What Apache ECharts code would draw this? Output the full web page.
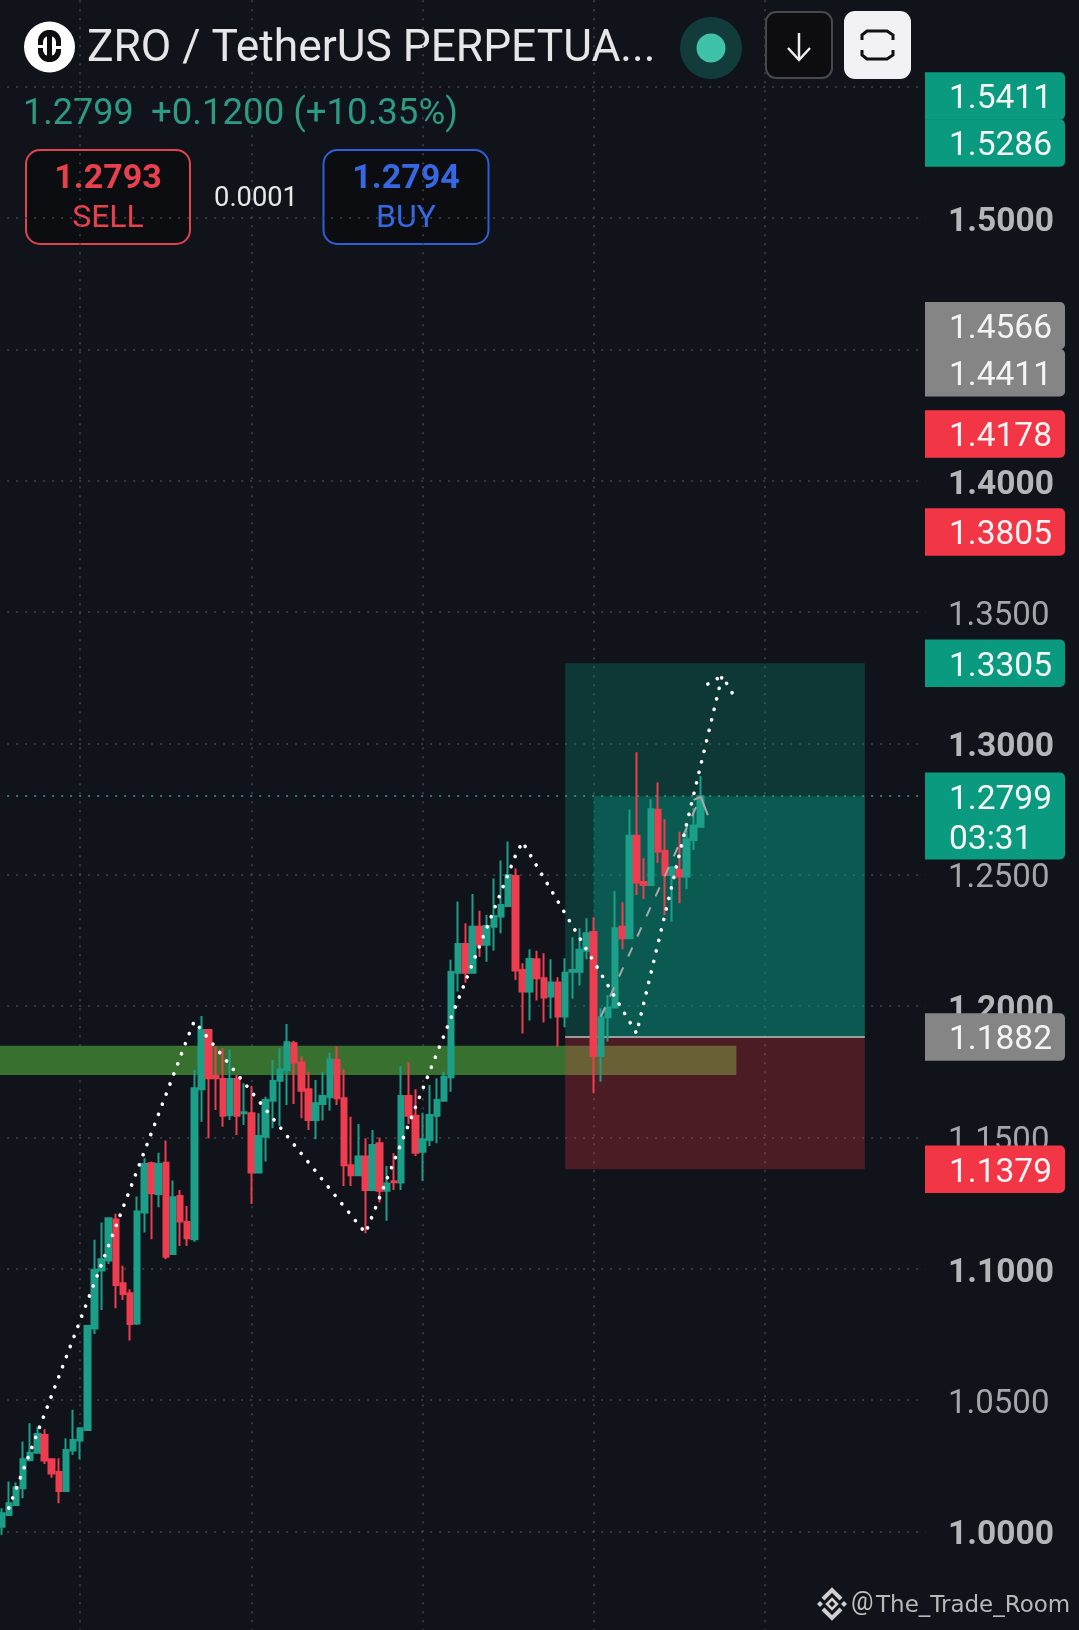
<!DOCTYPE html>
<html><head><meta charset="utf-8">
<style>html,body{margin:0;padding:0;background:#10131a}#c{width:1079px;height:1630px}</style>
<script src="https://cdn.jsdelivr.net/npm/echarts@6/dist/echarts.min.js"></script>
</head><body><div id="c"></div>
<script>
const opens=[1.0018,1.0063,1.0101,1.0164,1.0272,1.0300,1.0367,1.0275,1.0226,1.0154,1.0308,1.0346,1.0386,1.0773,1.0993,1.1031,1.1188,1.0945,1.0907,1.0792,1.1214,1.1402,1.1285,1.1404,1.1056,1.1277,1.1178,1.1112,1.1683,1.1909,1.1734,1.1722,1.1585,1.1722,1.1592,1.1592,1.1366,1.1503,1.1640,1.1716,1.1757,1.1858,1.1785,1.1683,1.1566,1.1627,1.1653,1.1795,1.1649,1.1394,1.1356,1.1427,1.1300,1.1478,1.1297,1.1333,1.1328,1.1658,1.1582,1.1445,1.1490,1.1582,1.1640,1.1729,1.2127,1.2236,1.2127,1.2302,1.2233,1.2302,1.2341,1.2381,1.2495,1.2137,1.2055,1.2178,1.2106,1.2036,1.2090,1.1960,1.2131,1.2131,1.2211,1.2282,1.1810,1.1957,1.1995,1.2302,1.2258,1.2648,1.2472,1.2461,1.2747,1.2590,1.2499,1.2518,1.2493,1.2632,1.2683];
const closes=[1.0069,1.0107,1.0168,1.0275,1.0300,1.0371,1.0270,1.0221,1.0154,1.0310,1.0348,1.0393,1.0782,1.0996,1.1036,1.1192,1.0938,1.0904,1.0790,1.1218,1.1399,1.1287,1.1399,1.1046,1.1272,1.1180,1.1116,1.1687,1.1909,1.1725,1.1725,1.1582,1.1722,1.1582,1.1596,1.1366,1.1505,1.1642,1.1715,1.1759,1.1862,1.1785,1.1678,1.1566,1.1630,1.1658,1.1797,1.1649,1.1394,1.1356,1.1427,1.1300,1.1471,1.1297,1.1325,1.1329,1.1658,1.1582,1.1442,1.1493,1.1585,1.1642,1.1731,1.2130,1.2236,1.2127,1.2302,1.2233,1.2305,1.2343,1.2385,1.2499,1.2135,1.2055,1.2179,1.2106,1.2033,1.2090,1.1960,1.2127,1.2137,1.2214,1.2277,1.1810,1.1957,1.1995,1.2296,1.2258,1.2648,1.2470,1.2461,1.2749,1.2588,1.2499,1.2528,1.2493,1.2635,1.2687,1.2799];
const lows=[0.9987,1.0063,1.0101,1.0126,1.0266,1.0300,1.0257,1.0204,1.0107,1.0154,1.0291,1.0275,1.0386,1.0752,1.0843,1.1018,1.0850,1.0881,1.0727,1.0786,1.1138,1.1112,1.1234,1.1036,1.1056,1.1087,1.1087,1.1103,1.1560,1.1497,1.1604,1.1541,1.1566,1.1509,1.1547,1.1247,1.1366,1.1408,1.1535,1.1544,1.1623,1.1627,1.1573,1.1528,1.1493,1.1564,1.1602,1.1623,1.1315,1.1315,1.1356,1.1135,1.1300,1.1252,1.1183,1.1300,1.1300,1.1551,1.1429,1.1335,1.1467,1.1478,1.1640,1.1674,1.2055,1.2089,1.2127,1.2188,1.2169,1.2211,1.2277,1.2381,1.2099,1.1896,1.1945,1.2021,1.1937,1.1953,1.1846,1.1919,1.2028,1.2078,1.2178,1.1668,1.1712,1.1865,1.1992,1.2216,1.2258,1.2423,1.2408,1.2461,1.2546,1.2347,1.2321,1.2391,1.2445,1.2594,1.2683];
const highs=[1.0088,1.0190,1.0186,1.0342,1.0412,1.0399,1.0389,1.0279,1.0279,1.0355,1.0463,1.0393,1.0786,1.1110,1.1176,1.1196,1.1209,1.1011,1.0922,1.1275,1.1421,1.1408,1.1442,1.1488,1.1336,1.1300,1.1239,1.1757,1.1962,1.1909,1.1846,1.1839,1.1835,1.1738,1.1706,1.1696,1.1592,1.1655,1.1795,1.1839,1.1932,1.1868,1.1808,1.1750,1.1719,1.1750,1.1823,1.1846,1.1759,1.1579,1.1551,1.1497,1.1528,1.1500,1.1391,1.1440,1.1772,1.1785,1.1683,1.1594,1.1700,1.1725,1.1750,1.2176,1.2398,1.2315,1.2427,1.2363,1.2347,1.2486,1.2554,1.2626,1.2524,1.2163,1.2216,1.2211,1.2201,1.2178,1.2110,1.2182,1.2262,1.2296,1.2334,1.2338,1.1992,1.2042,1.2438,1.2395,1.2747,1.2966,1.2563,1.2787,1.2851,1.2711,1.2531,1.2664,1.2670,1.2753,1.2876];
const slotCount=130;
const gridLineSlots=[11,35,59,83,107];
const categories=Array.from({length:slotCount},(_,i)=>String(i));

const tagValues=[1.5411,1.5286,1.4566,1.4411,1.4178,1.3805,1.3305,1.2799,1.1882,1.1379];
const tagKinds=['up','up','flat','flat','down','down','up','up','flat','down'];
const countdown='03:31';

const stopPrice=1.1379,entryPrice=1.1882,targetPrice=1.3305,lastPrice=1.2799;
const zoneLow=1.1738,zoneHigh=1.1849,zoneEndSlot=103;
const boxStartSlot=79,boxLiveSlot=83,boxEndSlot=121;

const dotsMain=[[1,1.0089],[26,1.1875],[27,1.1943],[51,1.1136],[72,1.2571],[73,1.2625],[89,1.1896],[101,1.3257],[103,1.3165]];
const dotsTop=[[99,1.3226],[101,1.3257]];
const guideDash=[[84,1.1960],[98,1.2796]];
const guideHead=[[97,1.2785],[98,1.2796],[99,1.2727]];

const GREEN='#1c9f89',RED='#ef3d50',BG='#10131a';
const tagColors={up:'#0a9a80',flat:'#858585',down:'#f23645'};
const F='Roboto, sans-serif';
const chart=echarts.init(document.getElementById('c'),null,{renderer:'canvas'});

function rectItem(api,i0,i1,p0,p1,style){
  const a=api.coord([i0,p0]),b=api.coord([i1,p1]);
  const x=i0===0?0:a[0];
  return {type:'rect',shape:{x:x,y:Math.min(a[1],b[1]),width:b[0]-x,height:Math.abs(a[1]-b[1])},style:style};
}
const zoneRects=[[0,zoneEndSlot,zoneLow,zoneHigh]];
const boxRects=[
 [boxStartSlot,boxEndSlot,entryPrice,targetPrice,'rgba(8,153,129,0.28)'],
 [boxLiveSlot,boxEndSlot,entryPrice,lastPrice,'rgba(8,153,129,0.36)'],
 [boxStartSlot,boxEndSlot,stopPrice,entryPrice,'rgba(242,54,69,0.27)']
];
const lineCommon={type:'line',symbol:'none',silent:true,clip:false,animation:false};

const option={
 animation:false,
 backgroundColor:BG,
 grid:{left:-1.87,top:-44.7,width:927.3,height:1707.5,containLabel:false,outerBoundsMode:'none'},
 xAxis:{type:'category',data:categories,boundaryGap:true,
  axisLine:{show:false},axisTick:{show:false},axisLabel:{show:false},
  splitLine:{show:true,alignWithLabel:true,interval:(i)=>gridLineSlots.indexOf(i)>=0,
   lineStyle:{color:'#41454c',width:1.5,type:[2,7]}}},
 yAxis:{type:'value',position:'right',min:0.95,max:1.6,interval:0.05,scale:true,
  axisLine:{show:false},axisTick:{show:false},
  axisLabel:{show:true,margin:22.6,align:'left',
   formatter:(v)=>{const s=v.toFixed(4);return (Math.round(v*100)%10===0)?'{b|'+s+'}':'{r|'+s+'}';},
   rich:{b:{fontFamily:F,fontSize:33.5,fontWeight:'bold',color:'#b4b6ba',padding:[9,0,0,0]},
         r:{fontFamily:F,fontSize:33,fontWeight:'normal',color:'#a4a6aa',padding:[9,0,0,0]}}},
  splitLine:{show:true,lineStyle:{color:'#41454c',width:1.5,type:[2,7]}}},
 series:[
  {type:'custom',z:1,silent:true,clip:false,data:zoneRects,encode:{x:[0,1],y:[2,3]},
   renderItem:(p,api)=>rectItem(api,api.value(0),api.value(1),api.value(2),api.value(3),{fill:'#38702f'})},
  {type:'custom',z:2,silent:true,clip:false,data:boxRects.map(r=>r.slice(0,4)),encode:{x:[0,1],y:[2,3]},
   renderItem:(p,api)=>rectItem(api,api.value(0),api.value(1),api.value(2),api.value(3),{fill:boxRects[p.dataIndex][4]})},
  {type:'custom',z:3,silent:true,clip:false,data:[[boxStartSlot,boxEndSlot,entryPrice]],encode:{x:[0,1],y:2},
   renderItem:(p,api)=>{const a=api.coord([api.value(0),api.value(2)]),b=api.coord([api.value(1),api.value(2)]);
     return {type:'line',shape:{x1:a[0],y1:a[1],x2:b[0],y2:b[1]},style:{stroke:'#9c9c9c',lineWidth:2}};}},
  {type:'candlestick',z:5,silent:true,clip:false,barWidth:6,
   data:opens.map((o,i)=>[o,closes[i],lows[i],highs[i]]),
   itemStyle:{color:GREEN,color0:RED,borderColor:GREEN,borderColor0:RED,borderWidth:2,borderColorDoji:RED},
   markLine:{silent:true,symbol:'none',animation:false,label:{show:false},
     lineStyle:{color:'#35a08c',width:1.5,type:[2,7]},data:[{yAxis:lastPrice}]}},
  Object.assign({},lineCommon,{z:6,data:guideDash,lineStyle:{color:'#a6a9a8',width:2,type:[10,12]}}),
  Object.assign({},lineCommon,{z:6,data:guideHead,lineStyle:{color:'#a6a9a8',width:2}}),
  Object.assign({},lineCommon,{z:7,data:dotsMain,lineStyle:{color:'#ffffff',width:3.6,type:[0.1,10.7],cap:'round'}}),
  Object.assign({},lineCommon,{z:7,data:dotsTop,lineStyle:{color:'#ffffff',width:3.6,type:[0.1,10.7],cap:'round'}}),
  {type:'custom',z:20,silent:true,clip:false,data:tagValues.map(v=>[0,v]),encode:{x:0,y:1},
   renderItem:(p,api)=>{
     const ys=tagValues.map(v=>api.coord([0,v])[1]);
     for(let j=ys.length-2;j>=0;j--){ if(ys[j+1]-ys[j]<47) ys[j]=ys[j+1]-47; }
     const i=p.dataIndex,y=ys[i],v=tagValues[i],live=v===lastPrice;
     const children=[
      {type:'rect',shape:{x:925,y:y-23.7,width:140,height:live?87:47.5,r:[0,5,5,0]},style:{fill:tagColors[tagKinds[i]]}},
      {type:'text',style:{x:949,y:y+4,text:v.toFixed(4),fill:'#f4f4f4',font:'400 33.5px '+F,verticalAlign:'middle'}}];
     if(live)children.push({type:'text',style:{x:949,y:y+44,text:countdown,fill:'#f4f4f4',font:'400 33.5px '+F,verticalAlign:'middle'}});
     return {type:'group',children:children};
   }}
 ],
 graphic:{elements:[
  {type:'circle',shape:{cx:49.5,cy:47,r:25.5},style:{fill:'#ffffff'}},
  {type:'rect',shape:{x:38,y:30,width:23,height:32,r:11},style:{fill:'#0c0c0e'}},
  {type:'rect',shape:{x:43,y:36,width:13,height:20,r:6},style:{fill:'#ffffff'}},
  {type:'rect',shape:{x:47,y:30,width:5,height:32},style:{fill:'#0c0c0e'}},
  {type:'rect',shape:{x:37,y:45,width:8,height:3},style:{fill:'#ffffff'}},
  {type:'rect',shape:{x:54,y:46,width:8,height:3},style:{fill:'#ffffff'}},
  {type:'text',style:{x:87,y:50,text:'ZRO / TetherUS PERPETUA...',fill:'#e6e6e8',font:'400 44.3px '+F,verticalAlign:'middle'}},
  {type:'circle',shape:{cx:711,cy:48,r:31},style:{fill:'#123c3b'}},
  {type:'circle',shape:{cx:711,cy:48,r:14.5},style:{fill:'#40c2a8'}},
  {type:'rect',shape:{x:766,y:12,width:66,height:66,r:10},style:{fill:'#0d0d0f',stroke:'#46484c',lineWidth:2}},
  {type:'polyline',shape:{points:[[799,33],[799,59]]},style:{stroke:'#eee',lineWidth:2.5,fill:null}},
  {type:'polyline',shape:{points:[[788,48],[799,60],[810,48]]},style:{stroke:'#eee',lineWidth:2.5,fill:null}},
  {type:'rect',shape:{x:844,y:11,width:67,height:68,r:11},style:{fill:'#f2f2f4'}},
  {type:'polyline',shape:{points:[[862,40],[862,35],[867,31],[887,31],[893,35],[893,40]]},style:{stroke:'#111',lineWidth:3,fill:null}},
  {type:'polyline',shape:{points:[[862,50],[862,55],[867,59],[887,59],[893,55],[893,50]]},style:{stroke:'#111',lineWidth:3,fill:null}},
  {type:'text',style:{x:23,y:115,text:'1.2799',fill:'#2d9a83',font:'400 36px '+F,verticalAlign:'middle'}},
  {type:'text',style:{x:151,y:115,text:'+0.1200 (+10.35%)',fill:'#2d9a83',font:'400 36.6px '+F,verticalAlign:'middle'}},
  {type:'rect',shape:{x:26,y:150,width:164,height:94,r:14},style:{fill:'#0c0d10',stroke:'#e0444f',lineWidth:2}},
  {type:'text',style:{x:108,y:179,text:'1.2793',fill:'#e8414d',font:'bold 34px '+F,align:'center',verticalAlign:'middle'}},
  {type:'text',style:{x:108,y:219,text:'SELL',fill:'#e8414d',font:'400 32px '+F,align:'center',verticalAlign:'middle'}},
  {type:'text',style:{x:256,y:199,text:'0.0001',fill:'#e8e8e8',font:'400 27.3px '+F,align:'center',verticalAlign:'middle'}},
  {type:'rect',shape:{x:323.5,y:150,width:165,height:94,r:14},style:{fill:'#0c0d10',stroke:'#2f5fd8',lineWidth:2}},
  {type:'text',style:{x:406,y:179,text:'1.2794',fill:'#3768e4',font:'bold 34px '+F,align:'center',verticalAlign:'middle'}},
  {type:'text',style:{x:406,y:219,text:'BUY',fill:'#3768e4',font:'400 32px '+F,align:'center',verticalAlign:'middle'}},
  {type:'polyline',shape:{points:[[823,1599],[832,1590],[841,1599]]},style:{stroke:'#d0d0d0',lineWidth:4,fill:null}},
  {type:'polyline',shape:{points:[[823,1609],[832,1618],[841,1609]]},style:{stroke:'#d0d0d0',lineWidth:4,fill:null}},
  {type:'polygon',shape:{points:[[832,1599],[837,1604],[832,1609],[827,1604]]},style:{fill:null,stroke:'#d0d0d0',lineWidth:2.5}},
  {type:'polygon',shape:{points:[[820,1601],[823,1604],[820,1607],[817,1604]]},style:{fill:'#d0d0d0'}},
  {type:'polygon',shape:{points:[[844,1601],[847,1604],[844,1607],[841,1604]]},style:{fill:'#d0d0d0'}},
  {type:'text',style:{x:851,y:1604,text:'@',fill:'#c0c0c0',font:'400 25px '+F,verticalAlign:'middle'}},
  {type:'text',style:{x:876,y:1606,text:'The_Trade_Room',fill:'#b8b8b8',font:'400 23px "DejaVu Sans", sans-serif',verticalAlign:'middle'}}
 ]}
};
chart.setOption(option);
</script></body></html>
